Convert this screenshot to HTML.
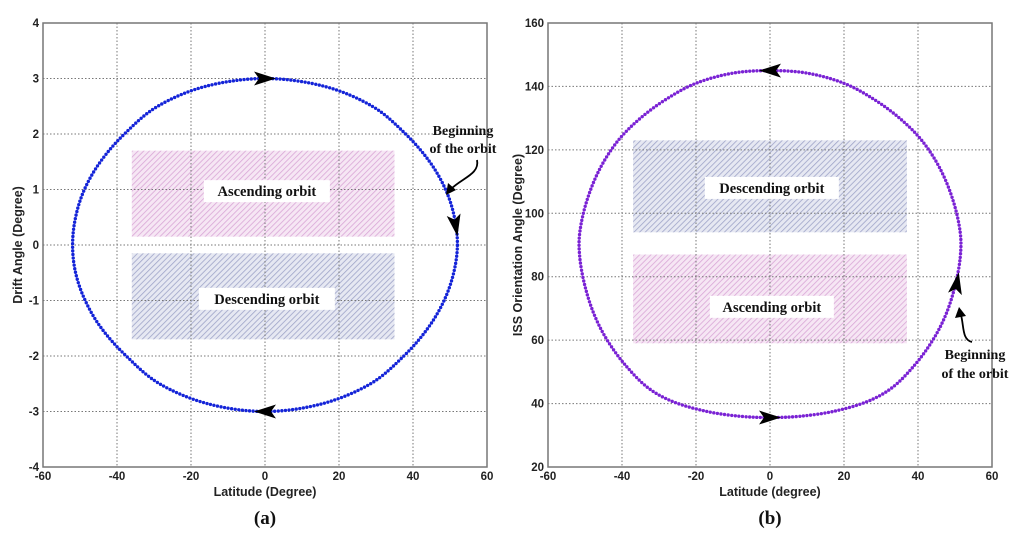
<!DOCTYPE html>
<html><head><meta charset="utf-8"><style>
body{margin:0;background:#fff;}
svg{display:block;font-family:"Liberation Sans",sans-serif;}
.tick{font-size:11.5px;font-weight:bold;fill:#222;}
.alab{font-size:12.5px;font-weight:bold;fill:#222;}
.ser{font-family:"Liberation Serif",serif;font-weight:bold;}
</style></head><body>
<svg id="fig" width="1024" height="536" viewBox="0 0 1024 536">
<defs>
<pattern id="hpink" width="4" height="4" patternUnits="userSpaceOnUse" patternTransform="rotate(45)"><rect width="4" height="4" fill="#f6e6f4"/><line x1="0" y1="0" x2="0" y2="4" stroke="#d9a6d6" stroke-width="1.6"/></pattern>
<pattern id="hblue" width="4" height="4" patternUnits="userSpaceOnUse" patternTransform="rotate(45)"><rect width="4" height="4" fill="#e6e8f2"/><line x1="0" y1="0" x2="0" y2="4" stroke="#9ea4c8" stroke-width="1.6"/></pattern>
</defs>
</svg>
<script>
// Panel (a) data
const aLat=[52,51.2,48.8,44.5,38,29,16,0,-16,-29,-38,-44.5,-48.8,-51.2,-52,-51.2,-48.6,-44.2,-37.5,-28.5,-15.5,0,15.5,28.5,37.5,44,48.4,51,52];
const aDrift=[0,0.5,1,1.5,2,2.5,2.86,3,2.86,2.5,2,1.5,1,0.5,0,-0.5,-1,-1.5,-2,-2.5,-2.86,-3,-2.86,-2.5,-2,-1.5,-1,-0.5,0];
const aXTicks=[-60,-40,-20,0,20,40,60];
const aYTicks=[-4,-3,-2,-1,0,1,2,3,4];
// Panel (b) data
const bLat=[0,10,20,28,35,41,46,49.5,51.4,51.4,50,47.5,44,39,33,26,17,8,0,-8,-17,-26,-33,-39,-44,-47.5,-50,-51.4,-51.4,-49.5,-46,-41,-35,-28,-20,-10,0];
const bAngle=[145,144.2,141,136,130,123,114,104,94,86,77,68,60,52,45,40.5,37.5,36,35.6,36,37.5,40.5,45,52,60,68,77,86,94,104,114,123,130,136,141,144.2,145];
const bXTicks=[-60,-40,-20,0,20,40,60];
const bYTicks=[20,40,60,80,100,120,140,160];

const NS="http://www.w3.org/2000/svg";
const svg=document.getElementById('fig');
function mk(tag,attrs,parent){const e=document.createElementNS(NS,tag);for(const k in attrs)e.setAttribute(k,attrs[k]);(parent||svg).appendChild(e);return e;}
function txt(s,attrs,parent){const e=mk('text',attrs,parent);e.textContent=s;return e;}

function smoothClosed(pts){
  const P=pts.slice(0,-1),n=P.length;
  let d='M'+P[0][0].toFixed(1)+','+P[0][1].toFixed(1);
  for(let i=0;i<n;i++){
    const p0=P[(i-1+n)%n],p1=P[i],p2=P[(i+1)%n],p3=P[(i+2)%n];
    const c1=[p1[0]+(p2[0]-p0[0])/6,p1[1]+(p2[1]-p0[1])/6];
    const c2=[p2[0]-(p3[0]-p1[0])/6,p2[1]-(p3[1]-p1[1])/6];
    d+='C'+c1.map(v=>v.toFixed(1)).join(',')+' '+c2.map(v=>v.toFixed(1)).join(',')+' '+p2[0].toFixed(1)+','+p2[1].toFixed(1);
  }
  return d+'Z';
}

function panel(o){
  const sx=v=>o.x0+(v-o.xmin)/(o.xmax-o.xmin)*(o.x1-o.x0);
  const sy=v=>o.y1-(v-o.ymin)/(o.ymax-o.ymin)*(o.y1-o.y0);
  const g=mk('g',{});
  
  
  o.rects.forEach(r=>{
    const re=mk('rect',{x:sx(r.x0),y:sy(r.y1),width:sx(r.x1)-sx(r.x0),height:sy(r.y0)-sy(r.y1),fill:r.fill},g);
    
    
  });
  o.xt.forEach(v=>{if(v>o.xmin&&v<o.xmax){const l=mk('line',{x1:sx(v),x2:sx(v),y1:o.y0,y2:o.y1,stroke:'#777','stroke-width':1,'stroke-dasharray':'1.5 2'},g);
    
    }});
  o.yt.forEach(v=>{if(v>o.ymin&&v<o.ymax){const l=mk('line',{x1:o.x0,x2:o.x1,y1:sy(v),y2:sy(v),stroke:'#777','stroke-width':1,'stroke-dasharray':'1.5 2'},g);
    
    }});
  o.labels.forEach(L=>{
    const w=L.w,h=22,cx=sx(L.x),cy=sy(L.y);
    mk('rect',{x:cx-w/2,y:cy-h/2,width:w,height:h,fill:'#fff'},g);
    const t=txt(L.t,{x:cx,y:cy+5,'text-anchor':'middle','font-size':14.5,class:'ser',fill:'#111'},g);
    
    
  });
  const pts=o.xs.map((v,i)=>[sx(v),sy(o.ys[i])]);
  const p=mk('path',{d:smoothClosed(pts),fill:'none',stroke:o.color,'stroke-width':3.4,'stroke-linecap':'round','stroke-dasharray':'0 3.6'},g);
  
  
  o.arrows.forEach(A=>{
    const cx=sx(A.x),cy=sy(A.y);
    const a=mk('polygon',{points:'11,0 -11,-7 -6,0 -11,7',fill:'#000',transform:`translate(${cx},${cy}) rotate(${A.rot})`},g);
    
    
  });
  const bx=mk('rect',{x:o.x0,y:o.y0,width:o.x1-o.x0,height:o.y1-o.y0,fill:'none',stroke:'#777','stroke-width':1.5},g);
  
  
  o.xt.forEach(v=>{const t=txt(String(v),{x:sx(v),y:o.y1+13,'text-anchor':'middle',class:'tick'},g);
    
    });
  o.yt.forEach(v=>{const t=txt(String(v),{x:o.x0-4,y:sy(v)+4,'text-anchor':'end',class:'tick'},g);
    
    });
  const xl=txt(o.xlabel,{x:(o.x0+o.x1)/2,y:o.y1+29,'text-anchor':'middle',class:'alab'},g);
  
  
  const yl=txt(o.ylabel,{x:0,y:0,'text-anchor':'middle',class:'alab',transform:`translate(${o.ylx},${(o.y0+o.y1)/2}) rotate(-90)`},g);
  
  
  const cap=txt(o.cap,{x:(o.x0+o.x1)/2,y:524,'text-anchor':'middle','font-size':19,class:'ser',fill:'#111'},g);
  
  
  return g;
}

const ga=panel({name:'panel-a',x0:43,x1:487,y0:23,y1:467,xmin:-60,xmax:60,ymin:-4,ymax:4,xt:aXTicks,yt:aYTicks,
  xs:aLat,ys:aDrift,color:'#1424d8',
  rects:[{x0:-36,x1:35,y0:0.15,y1:1.7,fill:'url(#hpink)',name:'ascending-region'},{x0:-36,x1:35,y0:-1.7,y1:-0.15,fill:'url(#hblue)',name:'descending-region'}],
  labels:[{t:'Ascending orbit',x:0.5,y:0.97,w:126,name:'ascending-label'},{t:'Descending orbit',x:0.5,y:-0.97,w:136,name:'descending-label'}],
  arrows:[{x:0,y:3,rot:0},{x:0,y:-3,rot:180},{x:51.5,y:0.35,rot:80}],
  xlabel:'Latitude (Degree)',ylabel:'Drift Angle (Degree)',ylx:22,cap:'(a)'});
const gb=panel({name:'panel-b',x0:548,x1:992,y0:23,y1:467,xmin:-60,xmax:60,ymin:20,ymax:160,xt:bXTicks,yt:bYTicks,
  xs:bLat,ys:bAngle,color:'#7a22d4',
  rects:[{x0:-37,x1:37,y0:94,y1:123,fill:'url(#hblue)',name:'descending-region'},{x0:-37,x1:37,y0:59,y1:87,fill:'url(#hpink)',name:'ascending-region'}],
  labels:[{t:'Descending orbit',x:0.5,y:108,w:134,name:'descending-label'},{t:'Ascending orbit',x:0.5,y:70.5,w:124,name:'ascending-label'}],
  arrows:[{x:0,y:145,rot:180},{x:0,y:35.6,rot:0},{x:50.5,y:78,rot:-80}],
  xlabel:'Latitude (degree)',ylabel:'ISS Orientation Angle (Degree)',ylx:522,cap:'(b)'});

function note(x,y1,y2,name){
  const t1=txt('Beginning',{x:x,y:y1,'text-anchor':'middle','font-size':14,class:'ser',fill:'#111'});
  
  
  const t2=txt('of the orbit',{x:x,y:y2,'text-anchor':'middle','font-size':14,class:'ser',fill:'#111'});
  
  
}
note(463,135,153,'beginning-note-a');
const c1=mk('path',{d:'M477,160 C480,174 462,178 451,189',fill:'none',stroke:'#000','stroke-width':1.8});


mk('polygon',{points:'446,195 448,183 456,190',fill:'#000'});
note(975,359,378,'beginning-note-b');
const c2=mk('path',{d:'M972,342 C962,340 964,326 961,315',fill:'none',stroke:'#000','stroke-width':1.8});


mk('polygon',{points:'959,307 955,318 966,316',fill:'#000'});
</script>
</body></html>
